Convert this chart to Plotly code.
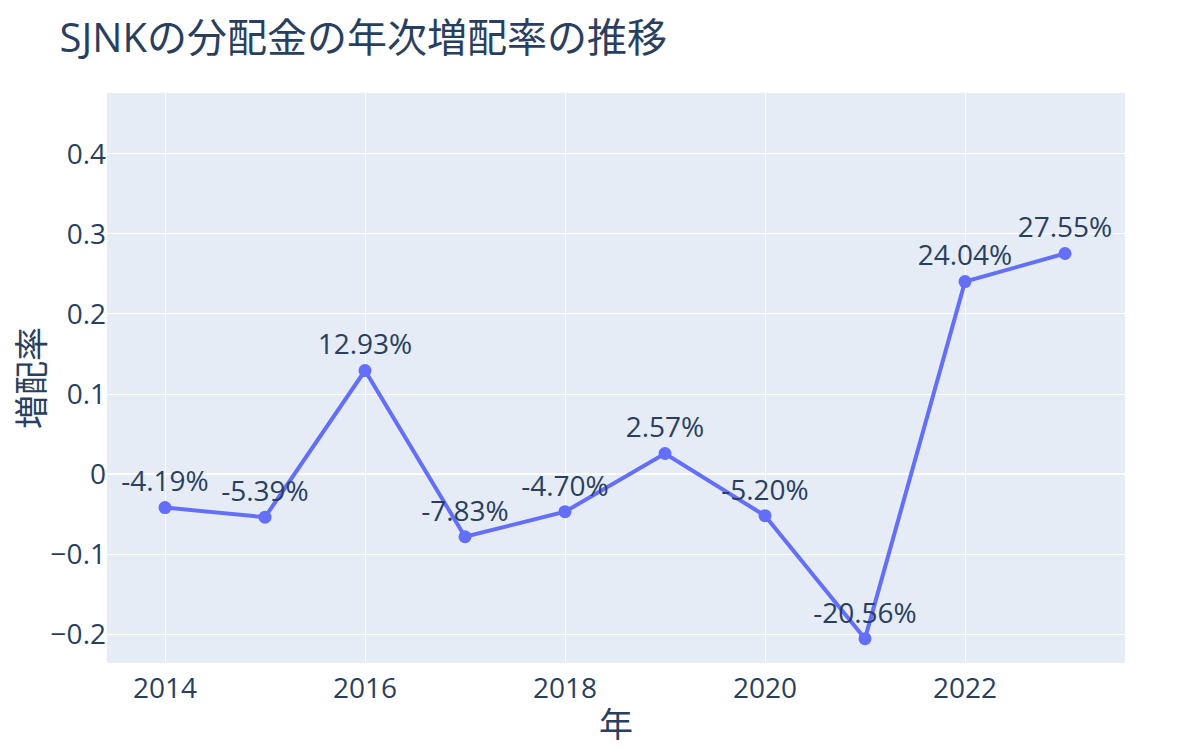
import plotly.graph_objects as go

# 年と増配率 (前年比)
years = [2014, 2015, 2016, 2017, 2018, 2019, 2020, 2021, 2022, 2023]
growth = [-0.0419, -0.0539, 0.1293, -0.0783, -0.0470, 0.0257, -0.0520, -0.2056, 0.2404, 0.2755]
labels = ["-4.19%", "-5.39%", "12.93%", "-7.83%", "-4.70%", "2.57%", "-5.20%", "-20.56%", "24.04%", "27.55%"]

fig = go.Figure()
fig.add_trace(go.Scatter(
    x=years, y=growth, text=labels,
    mode="lines+markers+text",
    textposition="top center",
    line=dict(color="#636efa", width=4),
    marker=dict(size=13),
))

fig.update_layout(
    template="plotly_white",
    width=1200, height=750,
    font=dict(family="Open Sans, Noto Sans CJK JP", size=28, color="#2a3f5f"),
    title=dict(text="SJNKの分配金の年次増配率の推移", x=0.043, y=0.96,
               xref="container", yref="container", yanchor="middle",
               font=dict(size=40)),
    plot_bgcolor="#e5ecf6",
    # ページの余白(8px)ぶん左上にずらしてある
    margin=dict(l=99, r=83, t=85, b=95),
    showlegend=False,
)
fig.update_xaxes(title=dict(text="年", standoff=8), range=[2013.42, 2023.6], gridcolor="white",
                 linecolor="white", automargin=True)
fig.update_yaxes(title_text="増配率", range=[-0.236, 0.476], dtick=0.1, gridcolor="white",
                 zerolinecolor="white", zerolinewidth=2, automargin=False)

fig.write_html("out.html")
